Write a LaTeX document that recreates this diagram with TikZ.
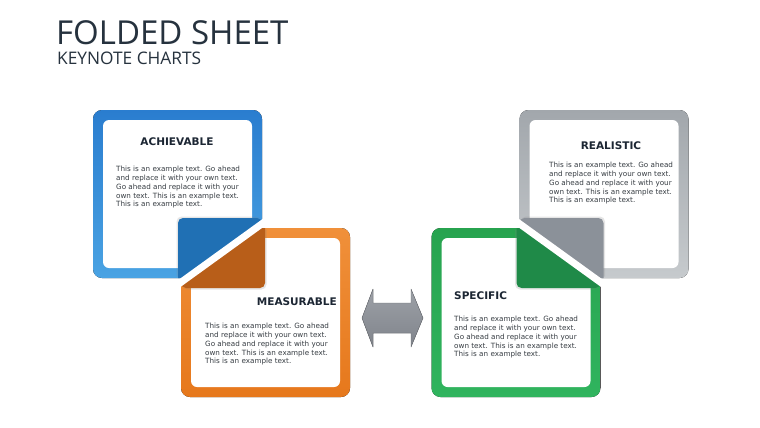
\documentclass[tikz,border=0pt]{standalone}
\usepackage{fontspec}
\setmainfont{DejaVu Sans}
\newfontfamily\titlefont{Open Sans}
\usetikzlibrary{shadows}
\definecolor{titlec}{HTML}{26323E}
\definecolor{headc}{HTML}{1C2633}
\definecolor{bodyc}{HTML}{363C42}
\definecolor{blueA}{HTML}{2A7DCF}
\definecolor{blueB}{HTML}{4AA3E3}
\definecolor{blueF}{HTML}{2070B4}
\definecolor{orangeA}{HTML}{F0903A}
\definecolor{orangeB}{HTML}{E6781C}
\definecolor{orangeF}{HTML}{B85E19}
\definecolor{greenA}{HTML}{27A34F}
\definecolor{greenB}{HTML}{30B45E}
\definecolor{greenF}{HTML}{1F8A48}
\definecolor{grayA}{HTML}{A2A7AC}
\definecolor{grayB}{HTML}{C6CACD}
\definecolor{grayF}{HTML}{8B9199}
\definecolor{arrowA}{HTML}{9DA1A7}
\definecolor{arrowB}{HTML}{80848B}
\tikzset{
  outerbox/.style={rounded corners=9pt},
  innerbox/.style={fill=white, rounded corners=6pt},
  head/.style={inner sep=0pt, text=headc, font=\bfseries\fontsize{10.5}{12}\selectfont},
  body/.style={inner sep=0pt, anchor=north west, align=left, text=bodyc, font=\fontsize{7.2}{8.8}\selectfont},
  gap/.style={white, line width=7pt},
}
\begin{document}
\begin{tikzpicture}[x=1pt,y=-1pt]
\useasboundingbox (0,0) rectangle (760,428);
\fill[white] (0,0) rectangle (760,428);

% titles
\node[anchor=base west, inner sep=0pt, text=titlec, font=\titlefont\fontsize{33}{33}\selectfont] (title) at (56,45) {FOLDED SHEET};
\node[anchor=base west, inner sep=0pt, text=titlec, font=\titlefont\fontsize{17.3}{17}\selectfont] (subtitle) at (57,65) {KEYNOTE CHARTS};

% ---------- blue (achievable) ----------
\begin{scope}
  \clip (279.6,0) -- (279.6,211) -- (163.4,295) -- (0,295) -- (0,0) -- cycle;
  \fill[outerbox, top color=blueA, bottom color=blueB] (93,110) rectangle (262,278);
  \fill[innerbox] (103,120) rectangle (252,268);
  \fill[blueF, drop shadow={shadow xshift=-1.5pt, shadow yshift=1.5pt, opacity=0.2}]
    (178,278) {[rounded corners=5pt] -- (178,218) -- (262,218)} -- (262,278) -- cycle;
\end{scope}
% ---------- orange (measurable) ----------
\begin{scope}
  \clip (279.6,211) -- (163.4,295) -- (163.4,428) -- (360,428) -- (360,211) -- cycle;
  \fill[outerbox, top color=orangeA, bottom color=orangeB] (181,228) rectangle (350,397);
  \fill[innerbox] (191,238) rectangle (340,387);
  \fill[orangeF, drop shadow={shadow xshift=1.5pt, shadow yshift=-1.5pt, opacity=0.2}]
    (181,228) -- (265,228) {[rounded corners=5pt] -- (265,288) -- (181,288)} -- cycle;
\end{scope}
\draw[gap] (279.6,211) -- (163.4,295);

% ---------- gray (realistic) ----------
\begin{scope}
  \clip (501.9,0) -- (501.9,211) -- (618.1,295) -- (760,295) -- (760,0) -- cycle;
  \fill[outerbox, top color=grayA, bottom color=grayB] (519.5,110) rectangle (688.5,278);
  \fill[innerbox] (529.5,120) rectangle (678.5,268);
  \fill[grayF, drop shadow={shadow xshift=1.5pt, shadow yshift=1.5pt, opacity=0.2}]
    (603.5,278) {[rounded corners=5pt] -- (603.5,218) -- (519.5,218)} -- (519.5,278) -- cycle;
\end{scope}
% ---------- green (specific) ----------
\begin{scope}
  \clip (501.9,211) -- (618.1,295) -- (618.1,428) -- (420,428) -- (420,211) -- cycle;
  \fill[outerbox, top color=greenA, bottom color=greenB] (431.5,228) rectangle (600.5,397);
  \fill[innerbox] (441.5,238) rectangle (590.5,387);
  \fill[greenF, drop shadow={shadow xshift=-1.5pt, shadow yshift=-1.5pt, opacity=0.2}]
    (600.5,228) -- (516.5,228) {[rounded corners=5pt] -- (516.5,288) -- (600.5,288)} -- cycle;
\end{scope}
\draw[gap] (501.9,211) -- (618.1,295);

% ---------- double arrow ----------
\fill[top color=arrowA, bottom color=arrowB, draw=arrowB!85!black, line width=0.4pt, line join=round]
  (362,318) -- (373,289) -- (373,303) -- (411,303) -- (411,289) -- (423,318)
  -- (411,347) -- (411,333) -- (373,333) -- (373,347) -- cycle;

% ---------- texts ----------
\node[head] (achievable) at (177,142) {ACHIEVABLE};
\node[body] (achievabletext) at (116,166) {This is an example text. Go ahead\\and replace it with your own text.\\Go ahead and replace it with your\\own text. This is an example text.\\This is an example text.};

\node[head, anchor=east] (measurable) at (337,302) {MEASURABLE};
\node[body] (measurabletext) at (205,323) {This is an example text. Go ahead\\and replace it with your own text.\\Go ahead and replace it with your\\own text. This is an example text.\\This is an example text.};

\node[head, anchor=west] (specific) at (454,296) {SPECIFIC};
\node[body] (specifictext) at (454,316) {This is an example text. Go ahead\\and replace it with your own text.\\Go ahead and replace it with your\\own text. This is an example text.\\This is an example text.};

\node[head] (realistic) at (611,146) {REALISTIC};
\node[body] (realistictext) at (549,162) {This is an example text. Go ahead\\and replace it with your own text.\\Go ahead and replace it with your\\own text. This is an example text.\\This is an example text.};
\end{tikzpicture}
\end{document}
